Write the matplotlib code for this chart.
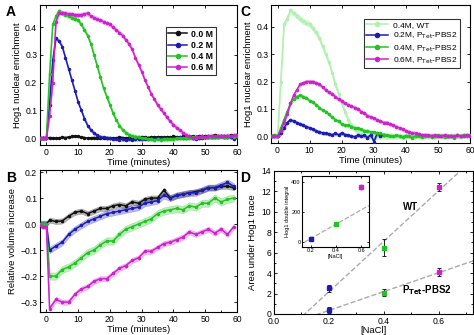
import numpy as np
import matplotlib
matplotlib.use("Agg")
import matplotlib.pyplot as plt

# ---------------- data ----------------
t_min = list(range(-2, 61))  # minutes, 1-min steps

A_00 = [0.0, 0.0, 0.0, 0.002, 0.001, 0.0, 0.001, 0.003, 0.002, 0.004,
        0.006, 0.008, 0.006, 0.004, 0.002, 0.0, 0.001, 0.002, 0.0, -0.001,
        0.0, 0.002, 0.001, 0.0, 0.001, 0.003, 0.002, 0.0, 0.001, 0.002,
        0.003, 0.002, 0.004, 0.003, 0.002, 0.004, 0.003, 0.005, 0.004, 0.003,
        0.005, 0.004, 0.006, 0.005, 0.004, 0.006, 0.005, 0.007, 0.006, 0.005,
        0.007, 0.006, 0.008, 0.007, 0.006, 0.012, 0.008, 0.007, 0.009, 0.008,
        0.010, 0.009, 0.012]
A_02 = [0.0, 0.0, 0.0, 0.12, 0.28, 0.36, 0.35, 0.33, 0.29, 0.25,
        0.21, 0.17, 0.13, 0.10, 0.07, 0.045, 0.03, 0.018, 0.01, 0.005,
        0.003, 0.0, 0.0, -0.003, -0.002, -0.005, -0.004, -0.006, -0.003, -0.005,
        -0.004, -0.003, -0.004, -0.002, -0.003, -0.001, -0.002, 0.0, -0.001, 0.0,
        0.001, 0.0, 0.002, 0.001, 0.003, 0.002, 0.001, 0.003, 0.002, -0.002,
        0.0, 0.002, 0.003, 0.004, 0.003, 0.005, 0.004, 0.006, 0.003, 0.005,
        0.004, -0.003, 0.006]
A_04 = [0.0, 0.0, 0.0, 0.23, 0.41, 0.44, 0.46, 0.45, 0.445, 0.44,
        0.435, 0.43, 0.425, 0.41, 0.39, 0.37, 0.34, 0.30, 0.26, 0.22,
        0.18, 0.15, 0.12, 0.09, 0.065, 0.045, 0.03, 0.02, 0.012, 0.008,
        0.005, 0.003, 0.002, 0.0, -0.002, -0.003, -0.005, -0.004, -0.005, -0.003,
        -0.004, -0.002, -0.003, 0.0, -0.001, 0.001, 0.0, 0.002, 0.003, 0.002,
        0.004, 0.003, 0.005, 0.004, 0.003, 0.005, 0.004, 0.006, 0.005, 0.004,
        0.006, 0.005, 0.007]
A_06 = [0.0, 0.0, 0.0, 0.08, 0.2, 0.42, 0.45, 0.452, 0.45, 0.448,
        0.446, 0.445, 0.444, 0.445, 0.448, 0.45, 0.44, 0.435, 0.43, 0.425,
        0.42, 0.415, 0.41, 0.40, 0.39, 0.38, 0.37, 0.355, 0.34, 0.32,
        0.29, 0.265, 0.24, 0.21, 0.185, 0.16, 0.14, 0.12, 0.105, 0.09,
        0.075, 0.06, 0.048, 0.038, 0.028, 0.02, 0.012, 0.006, 0.0, 0.003,
        0.005, 0.006, 0.004, 0.007, 0.008, 0.006, 0.009, 0.008, 0.006, 0.009,
        0.008, 0.010, 0.012]
A_err = [0.004, 0.006, 0.008, 0.008]
A_labels = ["0.0 M", "0.2 M", "0.4 M", "0.6 M"]

C_wt04 = [0.0, 0.0, 0.0, 0.2, 0.41, 0.43, 0.46, 0.45, 0.44, 0.43,
          0.42, 0.415, 0.41, 0.395, 0.38, 0.36, 0.33, 0.30, 0.27, 0.23,
          0.19, 0.155, 0.12, 0.09, 0.06, 0.04, 0.025, 0.015, 0.008, 0.004,
          0.002, 0.0, -0.002, 0.001, -0.003, 0.0, -0.002, 0.002, -0.001, 0.0,
          0.002, -0.002, 0.0, 0.003, -0.001, 0.001, 0.0, -0.002, 0.002, 0.0,
          0.001, -0.003, 0.002, 0.0, 0.003, -0.002, 0.001, 0.0, 0.002, -0.001,
          0.003, 0.0, 0.002]
C_02 = [0.0, 0.002, 0.0, 0.01, 0.03, 0.05, 0.06, 0.055, 0.05, 0.045,
        0.04, 0.035, 0.03, 0.025, 0.02, 0.015, 0.012, 0.01, 0.008, 0.005,
        0.01, 0.005, 0.012, 0.006, 0.003, 0.0, -0.002, 0.004, 0.0, 0.003,
        -0.005, 0.005, -0.02, 0.01, 0.002, 0.005]
C_04 = [0.0, 0.005, 0.0, 0.03, 0.06, 0.09, 0.12, 0.135, 0.145, 0.15,
        0.145, 0.14, 0.13, 0.125, 0.115, 0.105, 0.095, 0.09, 0.08, 0.07,
        0.06, 0.055, 0.045, 0.04, 0.04, 0.035, 0.03, 0.03, 0.025, 0.02,
        0.02, 0.015, 0.015, 0.01, 0.01, 0.005, 0.005, 0.002, 0.0, 0.003,
        0.0, -0.002, 0.002, 0.0, -0.005, 0.0, 0.002, -0.003, 0.0, 0.002,
        -0.002, 0.0, 0.003, 0.0, -0.003, 0.002, 0.0, -0.005, 0.003, 0.0,
        0.005, 0.002, 0.003]
C_06 = [0.0, 0.0, 0.0, 0.02, 0.05, 0.08, 0.12, 0.15, 0.17, 0.19,
        0.195, 0.2, 0.2, 0.2, 0.195, 0.19, 0.18, 0.17, 0.16, 0.155,
        0.145, 0.135, 0.13, 0.12, 0.115, 0.11, 0.105, 0.1, 0.09, 0.085,
        0.075, 0.07, 0.065, 0.06, 0.055, 0.05, 0.05, 0.045, 0.04, 0.035,
        0.03, 0.025, 0.02, 0.015, 0.012, 0.01, 0.008, 0.005, 0.004, 0.003,
        0.002, 0.004, 0.0, 0.002, 0.003, 0.0, 0.002, 0.001, 0.003, 0.0,
        0.002, 0.004, 0.002]
C_err = [0.01, 0.006, 0.006, 0.007]
C_labels = ["0.4M, WT", r"0.2M, P$_{\mathrm{Tet}}$-PBS2",
            r"0.4M, P$_{\mathrm{Tet}}$-PBS2", r"0.6M, P$_{\mathrm{Tet}}$-PBS2"]

t_vol = [-2, -1, 0] + list(range(1, 60, 2))
B_00 = [0.0, 0.0, 0.0, 0.015, 0.01, 0.012, 0.03, 0.045, 0.05, 0.04,
        0.05, 0.06, 0.06, 0.07, 0.075, 0.07, 0.085, 0.08, 0.095, 0.1,
        0.1, 0.13, 0.1, 0.11, 0.115, 0.12, 0.125, 0.13, 0.14, 0.14,
        0.145, 0.145, 0.14]
B_02 = [0.0, 0.0, 0.0, -0.1, -0.085, -0.07, -0.04, -0.02, -0.005, 0.01,
        0.02, 0.03, 0.04, 0.045, 0.05, 0.055, 0.06, 0.065, 0.08, 0.085,
        0.09, 0.11, 0.1, 0.11, 0.115, 0.12, 0.12, 0.13, 0.14, 0.14,
        0.15, 0.16, 0.145]
B_04 = [0.0, 0.0, 0.0, -0.2, -0.2, -0.175, -0.165, -0.15, -0.13, -0.11,
        -0.1, -0.08, -0.065, -0.065, -0.04, -0.02, -0.01, 0.0, 0.01, 0.02,
        0.04, 0.05, 0.055, 0.06, 0.055, 0.07, 0.065, 0.08, 0.08, 0.1,
        0.085, 0.095, 0.1]
B_06 = [-0.005, -0.01, -0.01, -0.325, -0.29, -0.3, -0.3, -0.27, -0.25, -0.24,
        -0.22, -0.21, -0.21, -0.19, -0.17, -0.16, -0.14, -0.13, -0.105, -0.105,
        -0.09, -0.075, -0.07, -0.06, -0.05, -0.03, -0.04, -0.03, -0.02, -0.035,
        -0.02, -0.04, -0.01]
B_err = [0.01, 0.012, 0.014, 0.01]

nacl = [0.2, 0.4, 0.6]
area_wt = [2.5, 6.5, 12.4]
area_wt_err = [0.3, 0.8, 0.4]
area_tet = [0.4, 2.1, 4.1]
area_tet_err = [0.3, 0.3, 0.4]
dbl_int = [25, 120, 365]
dbl_int_err = [8, 8, 12]

colors = ["#111111", "#1c1cb4", "#22c322", "#cc22cc"]
wt_light = "#b0f0b0"

# ---------------- figure ----------------
plt.rcParams["font.family"] = ["Liberation Sans", "DejaVu Sans"]
fig = plt.figure(figsize=(4.74, 3.35), dpi=100)

axA = fig.add_axes([0.0844, 0.567, 0.4156, 0.418])
axC = fig.add_axes([0.572, 0.573, 0.42, 0.412])
axB = fig.add_axes([0.0844, 0.0687, 0.4156, 0.424])
axD = fig.add_axes([0.578, 0.0627, 0.42, 0.427])
axI = fig.add_axes([0.637, 0.263, 0.141, 0.212])

tick_fs = 6.2
lab_fs = 6.8


def style(ax, fs=tick_fs):
    ax.tick_params(direction="in", which="both", top=True, right=True,
                   labelsize=fs, length=2.5, width=0.6, pad=2)
    ax.tick_params(which="minor", length=1.5)
    for s in ax.spines.values():
        s.set_linewidth(0.8)


def trace(ax, t, y, err, color, label, ms=1.5, lw=1.1, alpha_fill=0.3, zorder=2):
    t = np.asarray(t[:len(y)], float)
    y = np.asarray(y, float)
    ax.fill_between(t, y - err, y + err, color=color, alpha=alpha_fill,
                    lw=0.4, edgecolor=color, zorder=zorder)
    ax.plot(t, y, "-o", color=color, ms=ms, lw=lw, label=label, zorder=zorder + 1)


# Panel A
for y, e, c, l in zip([A_00, A_02, A_04, A_06], A_err, colors, A_labels):
    trace(axA, t_min, y, e, c, l)
axA.set_xlim(-2, 60)
axA.set_ylim(-0.025, 0.48)
axA.set_yticks([0.0, 0.1, 0.2, 0.3, 0.4])
axA.set_xticks([0, 10, 20, 30, 40, 50, 60])
axA.set_xlabel("Time (minutes)", fontsize=lab_fs, labelpad=1)
axA.set_ylabel("Hog1 nuclear enrichment", fontsize=lab_fs, labelpad=2)
style(axA)
legA = axA.legend(loc="upper right", bbox_to_anchor=(0.914, 0.875),
                  frameon=True, fancybox=False, edgecolor="black",
                  prop={"weight": "bold", "size": 6.3}, handlelength=2.2,
                  borderpad=0.3, labelspacing=0.25, handletextpad=0.4,
                  markerscale=2.0)
legA.get_frame().set_linewidth(0.8)

# Panel C
trace(axC, t_min, C_wt04, C_err[0], wt_light, C_labels[0],
      alpha_fill=0.5, zorder=1)
for y, e, c, l in zip([C_02, C_04, C_06], C_err[1:], colors[1:], C_labels[1:]):
    trace(axC, t_min, y, e, c, l)
axC.set_xlim(-2, 60)
axC.set_ylim(-0.025, 0.48)
axC.set_yticks([0.0, 0.1, 0.2, 0.3, 0.4])
axC.set_xticks([0, 10, 20, 30, 40, 50, 60])
axC.set_xlabel("Time (minutes)", fontsize=lab_fs, labelpad=1)
axC.set_ylabel("Hog1 nuclear enrichment", fontsize=lab_fs, labelpad=2)
style(axC)
legC = axC.legend(loc="upper right", bbox_to_anchor=(0.97, 0.93), fontsize=6,
                  frameon=True, fancybox=False, edgecolor="black",
                  handlelength=2.6, borderpad=0.3, labelspacing=0.2,
                  handletextpad=0.6, markerscale=2.0)
legC.get_frame().set_linewidth(0.8)

# Panel B
for y, e, c in zip([B_00, B_02, B_04, B_06], B_err, colors):
    trace(axB, t_vol, y, e, c, None)
axB.set_xlim(-2, 60)
axB.set_ylim(-0.338, 0.208)
axB.set_yticks([-0.3, -0.2, -0.1, 0.0, 0.1, 0.2])
axB.set_xticks([0, 10, 20, 30, 40, 50, 60])
axB.set_xticks(np.arange(5, 60, 10), minor=True)
axB.set_xlabel("Time (minutes)", fontsize=lab_fs, labelpad=1)
axB.set_ylabel("Relative volume increase", fontsize=lab_fs, labelpad=2)
style(axB)

# Panel D
xfit = np.array([0.0, 0.75])
for yv in (area_wt, area_tet):
    p = np.polyfit(nacl, yv, 1)
    axD.plot(xfit, np.polyval(p, xfit), "--", color="#aaaaaa", lw=1.0, zorder=1)
for yv, ev in ((area_wt, area_wt_err), (area_tet, area_tet_err)):
    for x, y, e, c in zip(nacl, yv, ev, colors[1:]):
        axD.errorbar(x, y, yerr=e, fmt="s", color=c, ms=3, capsize=1.5,
                     ecolor="#222222", elinewidth=0.7, capthick=0.7, zorder=3)
axD.set_xlim(0, 0.724)
axD.set_ylim(0, 14)
axD.set_xticks([0.0, 0.2, 0.4, 0.6])
axD.set_yticks([0, 2, 4, 6, 8, 10, 12, 14])
axD.set_yticks(np.arange(1, 14, 2), minor=True)
axD.set_xticks([0.1, 0.3, 0.5, 0.7], minor=True)
axD.set_xlabel("[NaCl]", fontsize=lab_fs, labelpad=0)
axD.set_ylabel("Area under Hog1 trace", fontsize=lab_fs, labelpad=3)
style(axD)
axD.text(0.47, 10.5, "WT", fontsize=7, fontweight="bold", va="center")
axD.text(0.465, 2.3, r"P$_{\mathbf{Tet}}$-PBS2", fontsize=7, fontweight="bold",
         va="center")

# Inset
p2 = np.polyfit(nacl[:2], dbl_int[:2], 1)
xi = np.array([0.15, 0.66])
axI.plot(xi, np.polyval(p2, xi), "--", color="#aaaaaa", lw=0.9, zorder=1)
for x, y, e, c in zip(nacl, dbl_int, dbl_int_err, colors[1:]):
    axI.errorbar(x, y, yerr=e, fmt="s", color=c, ms=2.5, capsize=1,
                 ecolor="#222222", elinewidth=0.5, zorder=3)
axI.set_xlim(0.13, 0.66)
axI.set_ylim(-30, 440)
axI.set_xticks([0.2, 0.4, 0.6])
axI.set_yticks([0, 200, 400])
axI.set_xlabel("[NaCl]", fontsize=4, labelpad=0.5)
axI.set_ylabel("Hog1 double integral", fontsize=4, labelpad=0.5)
style(axI, fs=4)
axI.tick_params(length=1.5, pad=1)

# Panel letters
for lbl, x, y in (("A", 0.012, 0.965), ("B", 0.012, 0.47),
                  ("C", 0.507, 0.965), ("D", 0.507, 0.47)):
    fig.text(x, y, lbl, fontsize=10, fontweight="bold", ha="left", va="center")

fig.savefig("out.png", dpi=100)
